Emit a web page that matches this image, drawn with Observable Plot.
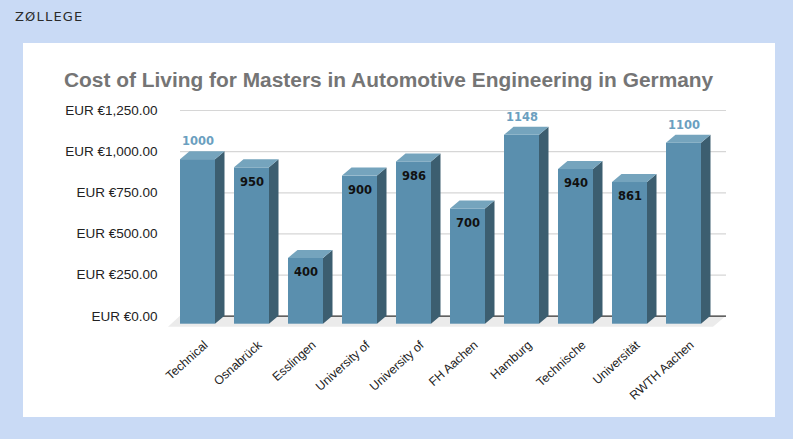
<!DOCTYPE html>
<html><head><meta charset="utf-8">
<script src="https://cdn.jsdelivr.net/npm/d3@7"></script>
<script src="https://cdn.jsdelivr.net/npm/@observablehq/plot@0.6"></script>
<style>
html,body{margin:0;padding:0;}
body{width:793px;height:439px;background:#c9daf5;position:relative;overflow:hidden;font-family:"Liberation Sans",Arial,sans-serif;}
#logo{position:absolute;left:15px;top:9px;font:normal 13px "DejaVu Sans",sans-serif;letter-spacing:1.2px;color:#2a2a2a;line-height:16px;}
#panel{position:absolute;left:23px;top:43px;width:752px;height:374px;background:#fff;}
#chart{position:absolute;left:0;top:0;}
#title{position:absolute;left:64px;top:70px;font:bold 20.9px "Liberation Sans",Arial,sans-serif;color:#757575;white-space:nowrap;line-height:20px;}
</style></head><body>
<div id="logo">ZØLLEGE</div>
<div id="panel"></div>
<div id="chart"></div>
<div id="title">Cost of Living for Masters in Automotive Engineering in Germany</div>
<script>
const universities = ["Technical", "Osnabrück", "Esslingen", "University of", "University of ", "FH Aachen", "Hamburg", "Technische", "Universität", "RWTH Aachen"];
const costs = [1000, 950, 400, 900, 986, 700, 1148, 940, 861, 1100];
const yTicks = [0, 250, 500, 750, 1000, 1250];
const outsideThreshold = 1000;

const data = universities.map((u, i) => ({u, v: costs[i], outside: costs[i] >= outsideThreshold}));

const FRONT = "#5a8fae", SIDE = "#3c5e70", TOP = "#75a4bd";
const DEPTH_X = 9.5, DEPTH_Y = 8;

const chart = Plot.plot({
  width: 793, height: 439,
  marginLeft: 180, marginRight: 67, marginTop: 110, marginBottom: 123.3,
  style: {background: "transparent", overflow: "visible", fontFamily: "Liberation Sans, Arial, sans-serif", fontSize: "13px", color: "#222"},
  x: {domain: universities, paddingInner: 0.352, paddingOuter: 0.231, align: 0, axis: null},
  y: {domain: [0, 1250], axis: null},
  marks: [
    Plot.ruleY(yTicks.filter(d => d > 0), {stroke: "#d6d6d6", strokeWidth: 1.2}),
    Plot.ruleY([0], {stroke: "#333", strokeWidth: 1.2}),
    Plot.axisY({ticks: yTicks, tickFormat: d => "EUR €" + d3.format(",.2f")(d), tickSize: 0, tickPadding: 23, label: null, fontSize: 13.5, fill: "#222"}),
    Plot.barY(data, {x: "u", y: "v", fill: FRONT, dy: DEPTH_Y}),
    Plot.text(data, {x: "u", y: 0, text: d => d.u.trim(), rotate: -42, textAnchor: "end", dx: 8, dy: 27, fontSize: 12.3, fill: "#222"}),
    Plot.text(data, {x: "u", y: "v", text: d => String(d.v), fontFamily: "DejaVu Sans, sans-serif", fontWeight: "bold", fontSize: 11.5,
      filter: d => !d.outside, fill: "#111", dy: DEPTH_Y + 14}),
    Plot.text(data, {x: "u", y: "v", text: d => String(d.v), fontFamily: "DejaVu Sans, sans-serif", fontWeight: "bold", fontSize: 11.5,
      filter: d => d.outside, fill: "#6b9fc0", dy: DEPTH_Y - 18})
  ]
});
document.getElementById("chart").appendChild(chart);

// 3D faces built from the plot's own scales
const sx = chart.scale("x"), sy = chart.scale("y");
const bw = sx.bandwidth;
const y0 = sy.apply(0);
const rules = chart.querySelectorAll('g[aria-label="rule"]');
const baseRule = rules[rules.length - 1];
const floorG = document.createElementNS("http://www.w3.org/2000/svg", "g");
baseRule.parentNode.insertBefore(floorG, baseRule);
const left = sx.range[0], right = sx.range[1];
d3.select(floorG).append("polygon")
  .attr("points", [[left, y0], [right, y0], [right - 13, y0 + 11], [left - 12, y0 + 11]].map(p => p.join(",")).join(" "))
  .attr("fill", "#ebebeb");

const barG = chart.querySelector('g[aria-label="bar"]');
const facesG = document.createElementNS("http://www.w3.org/2000/svg", "g");
barG.parentNode.insertBefore(facesG, barG.nextSibling);
const fg = d3.select(facesG);
data.forEach(d => {
  const x0 = sx.apply(d.u), x1 = x0 + bw;
  const yt = sy.apply(d.v) + DEPTH_Y, yb = y0 + DEPTH_Y;
  fg.append("polygon")
    .attr("points", [[x1, yt], [x1 + DEPTH_X, yt - DEPTH_Y], [x1 + DEPTH_X, yb - DEPTH_Y], [x1, yb]].map(p => p.join(",")).join(" "))
    .attr("fill", SIDE);
  fg.append("polygon")
    .attr("points", [[x0, yt], [x0 + DEPTH_X, yt - DEPTH_Y], [x1 + DEPTH_X, yt - DEPTH_Y], [x1, yt]].map(p => p.join(",")).join(" "))
    .attr("fill", TOP);
});
</script>
</body></html>
